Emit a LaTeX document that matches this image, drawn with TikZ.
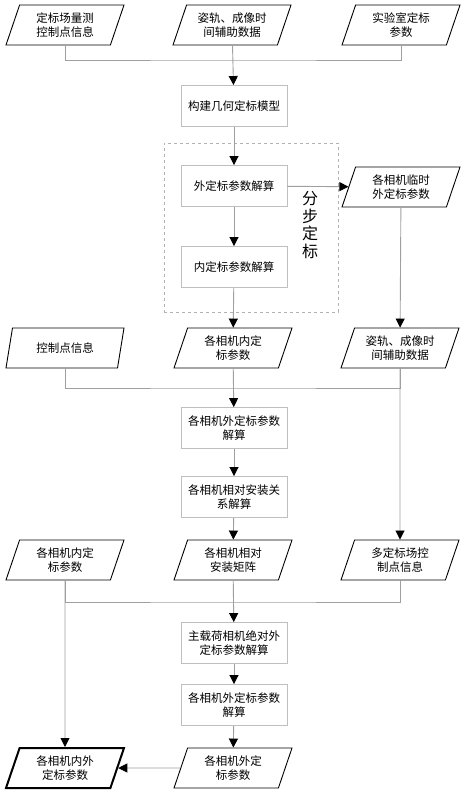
\documentclass[tikz,border=0pt]{standalone}
\usepackage{fontspec}
\setmainfont{Noto Sans CJK SC}
\usetikzlibrary{shapes.geometric, positioning, arrows.meta}

\tikzset{
  datbox/.style={draw, trapezium, trapezium left angle=63,
    trapezium right angle=117, trapezium stretches body,
    minimum width=118pt, minimum height=40pt, inner sep=1pt,
    align=center, font=\fontsize{11.5}{14}\selectfont},
  procbox/.style={draw=gray!50, rectangle, minimum width=106pt,
    minimum height=41pt, inner sep=1pt, align=center,
    font=\fontsize{11.5}{14}\selectfont},
  flow/.style={draw=gray!75,
    -{Triangle[length=9pt, width=9pt, color=black, fill=black]}},
  wire/.style={draw=gray!75}
}

\begin{document}
\begin{tikzpicture}[x=1pt, y=-1pt, line width=0.9pt]
  \useasboundingbox (0,0) rectangle (474,794);%

  % inputs
  \node [datbox] (fieldpts) at (65,25) {定标场量测\\控制点信息};%
  \node [datbox] (orbit) at (232,25) {姿轨、成像时\\间辅助数据};%
  \node [datbox] (labpar) at (401,25) {实验室定标\\参数};%
  \node [procbox] (model) at (234,106) {构建几何定标模型};%

  % stepwise calibration
  \node [draw=gray!60, dashed, minimum width=174pt, minimum height=169pt]
  (stage) at (251,227.5) {};%
  \node [procbox] (extsol) at (234,186) {外定标参数解算};%
  \node [procbox] (intsol) at (234,267) {内定标参数解算};%
  \node [align=center, font=\fontsize{16}{17.5}\selectfont] (stagelbl)
  at (310,225) {分\\步\\定\\标};%
  \node [datbox] (tmpext) at (401,187) {各相机临时\\外定标参数};%

  % second row
  \node [datbox] (ctrl) at (65,348) {控制点信息};%
  \node [datbox] (intpar) at (233,348) {各相机内定\\标参数};%
  \node [datbox] (orbit2) at (400,348) {姿轨、成像时\\间辅助数据};%
  \node [procbox] (extcalc) at (234,428) {各相机外定标参数\\解算};%
  \node [procbox] (relcalc) at (234,497) {各相机相对安装关\\系解算};%

  % third row
  \node [datbox] (intpar2) at (65,560) {各相机内定\\标参数};%
  \node [datbox] (relmat) at (233,560) {各相机相对\\安装矩阵};%
  \node [datbox] (multi) at (400,560) {多定标场控\\制点信息};%
  \node [procbox] (absext) at (234,643) {主载荷相机绝对外\\定标参数解算};%
  \node [procbox] (extcalc2) at (234,705) {各相机外定标参数\\解算};%

  % outputs
  \node [datbox, line width=2pt] (result) at (65,768) {各相机内外\\定标参数};%
  \node [datbox] (extpar) at (233,768) {各相机外定\\标参数};%

  \coordinate (j1) at (233,60);%
  \coordinate (j2) at (233,388);%
  \coordinate (j3) at (233,602);%

  \draw [wire] (fieldpts.south) |- (j1) -| (labpar.south);%
  \draw [flow] (orbit) -- (model);%
  \draw [flow] (model) -- (extsol);%
  \draw [flow] (extsol) -- (intsol);%
  \draw [flow] (extsol) -- (tmpext);%
  \draw [flow] (intsol) -- (intpar);%
  \draw [flow] (tmpext) -- (orbit2);%

  \draw [wire] (ctrl.south) |- (j2) -| (orbit2.south);%
  \draw [flow] (orbit2) -- (multi);%
  \draw [flow] (intpar) -- (extcalc);%
  \draw [flow] (extcalc) -- (relcalc);%
  \draw [flow] (relcalc) -- (relmat);%

  \draw [wire] (multi.south) |- (j3) -| (intpar2.south);%
  \draw [flow] (intpar2) -- (result);%
  \draw [flow] (relmat) -- (absext);%
  \draw [flow] (absext) -- (extcalc2);%
  \draw [flow] (extcalc2) -- (extpar);%
  \draw [flow] (extpar) -- (result);%
\end{tikzpicture}
\end{document}
